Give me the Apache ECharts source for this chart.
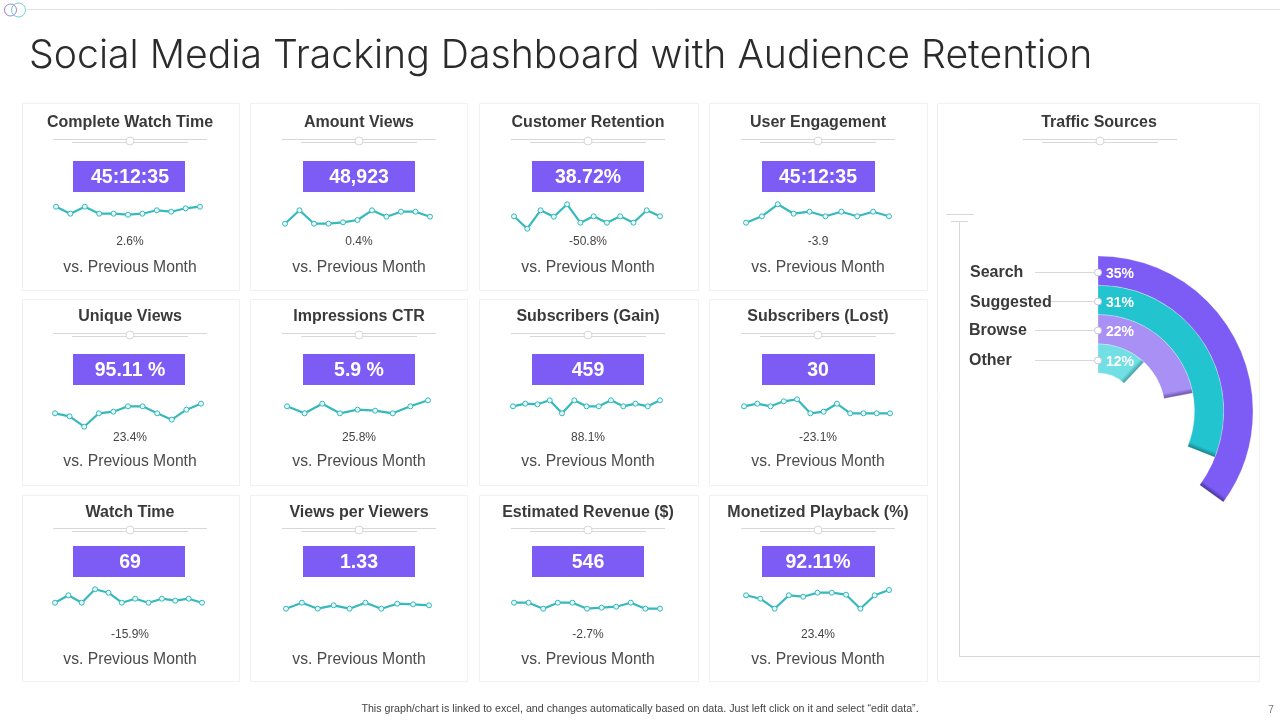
<!DOCTYPE html>
<html>
<head>
<meta charset="utf-8">
<style>html,body{margin:0;padding:0;background:#fff}#main{width:1280px;height:720px}</style>
<script src="https://cdn.jsdelivr.net/npm/echarts@6/dist/echarts.min.js"></script>
</head>
<body>
<div id="main"></div>
<script>
// card texts
var cardTitles = ['Complete Watch Time', 'Amount Views', 'Customer Retention', 'User Engagement',
  'Unique Views', 'Impressions CTR', 'Subscribers (Gain)', 'Subscribers (Lost)',
  'Watch Time', 'Views per Viewers', 'Estimated Revenue ($)', 'Monetized Playback (%)'];
var cardValues = ['45:12:35', '48,923', '38.72%', '45:12:35', '95.11 %', '5.9 %', '459', '30', '69', '1.33', '546', '92.11%'];
var cardChanges = ['2.6%', '0.4%', '-50.8%', '-3.9', '23.4%', '25.8%', '88.1%', '-23.1%', '-15.9%', '', '-2.7%', '23.4%'];

// sparkline values
var spark1 = [25.3, 18.3, 25.3, 18.3, 18.3, 17.3, 18.3, 21.7, 20.3, 23.7, 25.3];
var spark2 = [8.3, 21.7, 8.3, 8.3, 9.7, 12, 21.7, 15.3, 20.3, 20.3, 15.3];
var spark3 = [15.7, 3.3, 21.7, 15.3, 27.7, 9.3, 15.7, 9.3, 15.7, 9.3, 21.7, 15.7];
var spark4 = [9.3, 15.7, 27.7, 18.3, 20.3, 15.7, 20.3, 15.7, 20.3, 15.7];
var spark5 = [18.7, 15.7, 5.3, 18.7, 20.3, 25.7, 25.7, 18.7, 12.3, 22.3, 28.3];
var spark6 = [25.7, 18.7, 28.3, 18.7, 22.3, 21.3, 18.7, 25.7, 31.7];
var spark7 = [25.7, 28.3, 27.7, 31.7, 18.7, 31.7, 25.7, 25.7, 31.7, 25.7, 28.3, 25.7, 31.7];
var spark8 = [25.7, 28.3, 25.7, 30.7, 32.7, 18.7, 20.3, 28.3, 18.7, 18.7, 18.7, 18.7];
var spark9 = [17.3, 24.7, 17.3, 30.7, 27.3, 17.3, 21.3, 17.3, 21.3, 19.3, 21.3, 17.3];
var spark10 = [11.3, 17.3, 11.3, 14.7, 11.3, 17.3, 11.3, 16.3, 15.7, 14.7];
var spark11 = [17.3, 17.3, 11.3, 17.3, 17.3, 11.3, 12.3, 13.3, 17.3, 11.3, 11.3];
var spark12 = [24.7, 21.3, 11.3, 24.7, 23.3, 27.3, 27.3, 25.3, 11.3, 24.7, 30];
var sparks = [spark1, spark2, spark3, spark4, spark5, spark6, spark7, spark8, spark9, spark10, spark11, spark12];

// traffic sources, inner ring first
var trafficNames = ['Other', 'Browse', 'Suggested', 'Search'];
var trafficValues = [12, 22, 31, 35];

// layout
var colLeft = [22, 250, 479, 709];
var colWidth = [217, 217, 219, 218];
var colCenter = [130, 359, 588, 818];
var boxLeft = [73, 303, 532, 762];
var boxWidth = [112, 112, 112, 113];
var rows = [
  {top: 103, h: 187, title: 123, line: 139.5, box: 161, value: 177.5, grid: 192, pct: 242, vs: 268},
  {top: 299, h: 186, title: 317, line: 333.5, box: 354, value: 370.5, grid: 392, pct: 438, vs: 462},
  {top: 495, h: 186, title: 513, line: 528.5, box: 546, value: 562.5, grid: 580, pct: 635, vs: 660}
];
var sparkLeft = [56, 285, 514, 746, 55, 287, 513, 744, 55, 286, 514, 746];
var sparkRight = [200, 430, 660, 889, 201, 428, 660, 890, 202, 429, 660, 889];

var purple = '#7c5cf5', teal = '#21c4cf', lightPurple = '#a890f5', lightTeal = '#72dfe4';
var ringColors = [lightTeal, lightPurple, teal, purple];
var ringDark = ['#3f9ea3', '#6a4fa8', '#1c7f86', '#46329a'];
var FONT = '"Liberation Sans", Arial, sans-serif';
var cx = 1098, cy = 411;

var grid = [], xAxis = [], yAxis = [], series = [], graphic = [];

function text(str, x, y, size, color, weight, align) {
  graphic.push({type: 'text', z: 20, style: {text: str, x: x, y: y, fill: color, align: align || 'center', verticalAlign: 'middle',
    font: (weight || 'normal') + ' ' + size + 'px ' + FONT}});
}
function line(x1, y1, x2, y2, color) {
  graphic.push({type: 'line', z: 5, shape: {x1: x1, y1: y1, x2: x2, y2: y2}, style: {stroke: color || '#d8d8d8', lineWidth: 1}});
}
function divider(c, y, halfLong, halfShort) {
  line(c - halfLong, y, c + halfLong, y);
  line(c - halfShort, y + 3, c + halfShort, y + 3);
  graphic.push({type: 'circle', z: 6, shape: {cx: c, cy: y + 1.5, r: 4}, style: {fill: '#fff', stroke: '#d8d8d8', lineWidth: 1}});
}
function card(x, y, w, h) {
  graphic.push({type: 'rect', z: 0, shape: {x: x + 0.5, y: y + 0.5, width: w, height: h},
    style: {fill: '#fff', stroke: '#f1f1f1', lineWidth: 1}});
}

// top rule with the two rings
line(27, 9.5, 1280, 9.5, '#e2e2e2');
graphic.push({type: 'circle', z: 6, shape: {cx: 10.5, cy: 10, r: 6}, style: {fill: 'none', stroke: '#9a85d8', lineWidth: 1}});
graphic.push({type: 'circle', z: 6, shape: {cx: 18.5, cy: 10, r: 7}, style: {fill: 'none', stroke: '#6fd0cf', lineWidth: 1}});

graphic.push({type: 'text', z: 20, style: {text: 'Social Media Tracking Dashboard with Audience Retention', x: 29, y: 56,
  fill: '#2b2b2b', verticalAlign: 'middle', font: '300 39.2px Inter, sans-serif'}});

cardTitles.forEach(function (title, i) {
  var col = i % 4, row = rows[Math.floor(i / 4)], c = colCenter[col];
  card(colLeft[col], row.top, colWidth[col], row.h);
  text(title, c, row.title, 16, '#3a3a3a', 'bold');
  divider(c, row.line, 77, 58);
  graphic.push({type: 'rect', z: 5, shape: {x: boxLeft[col], y: row.box, width: boxWidth[col], height: 31}, style: {fill: purple}});
  text(cardValues[i], c, row.value, 19.5, '#ffffff', 'bold');
  if (cardChanges[i]) text(cardChanges[i], c, row.pct, 12, '#444444');
  text('vs. Previous Month', c, row.vs, 15.7, '#4a4a4a');

  grid.push({left: sparkLeft[i], width: sparkRight[i] - sparkLeft[i], top: row.grid, height: 40});
  xAxis.push({type: 'category', gridIndex: i, show: false, boundaryGap: false, data: sparks[i].map(function (v, k) { return k + 1; })});
  yAxis.push({type: 'value', gridIndex: i, show: false, min: 0, max: 40});
  series.push({type: 'line', xAxisIndex: i, yAxisIndex: i, data: sparks[i], clip: false, z: 10,
    symbol: 'circle', symbolSize: 5, showAllSymbol: true,
    lineStyle: {color: '#35b9bc', width: 2.2},
    itemStyle: {color: '#e6f8f8', borderColor: '#35b9bc', borderWidth: 1}});
});

// traffic sources panel
card(937, 103, 322, 578);
text('Traffic Sources', 1099, 123, 16, '#3a3a3a', 'bold');
divider(1100, 139.5, 77, 58);
line(946, 214.5, 974, 214.5);
line(951, 221.5, 968, 221.5);
line(959.5, 222, 959.5, 656.5);
line(959.5, 656.5, 1260, 656.5);

var labelX = [969, 969, 970, 970], labelY = [361, 331, 303, 273], leaderFrom = [1035, 1035, 1050, 1035], leaderY = [360.5, 330.5, 301.5, 272.5];
trafficNames.forEach(function (name, i) {
  text(name, labelX[i], labelY[i], 16, '#3a3a3a', 'bold', 'left');
  line(leaderFrom[i], leaderY[i], cx, leaderY[i]);
  graphic.push({type: 'circle', z: 8, shape: {cx: cx, cy: leaderY[i], r: 3.5}, style: {fill: '#fff', stroke: '#c8c8d8', lineWidth: 1}});
});

// each ring fades to a dark edge where it ends; the gradient runs along the tangent at that end
var ringData = trafficValues.map(function (v, i) {
  var a = v / 100 * 2 * Math.PI, dx = Math.cos(a), dy = Math.sin(a), w = 5;
  return {value: v, itemStyle: {color: {type: 'linear', global: true, x: cx - dx * w, y: cy - dy * w, x2: cx, y2: cy,
    colorStops: [{offset: 0, color: ringColors[i]}, {offset: 1, color: ringDark[i]}]}}};
});
series.push({type: 'bar', coordinateSystem: 'polar', data: ringData, barWidth: '100%', z: 3,
  itemStyle: {borderColor: 'rgba(255,255,255,0.5)', borderWidth: 0.5},
  label: {show: true, position: 'insideStart', rotate: 0, offset: [3, 3.5], color: '#fff', fontFamily: FONT, fontWeight: 'bold', fontSize: 14, formatter: '{c}%'}});

text('This graph/chart is linked to excel, and changes automatically based on data. Just left click on it and select “edit data”.', 640, 709, 10.7, '#444444');
text('7', 1271, 710, 10, '#777777');

var myChart = echarts.init(document.getElementById('main'));
myChart.setOption({
  animation: false,
  backgroundColor: '#fff',
  grid: grid,
  xAxis: xAxis,
  yAxis: yAxis,
  polar: {center: [cx, cy], radius: [38, 155]},
  angleAxis: {show: false, type: 'value', min: 0, max: 100, startAngle: 90, clockwise: true},
  radiusAxis: {show: false, type: 'category', data: trafficNames},
  graphic: {elements: graphic},
  series: series
});
</script>
</body>
</html>
